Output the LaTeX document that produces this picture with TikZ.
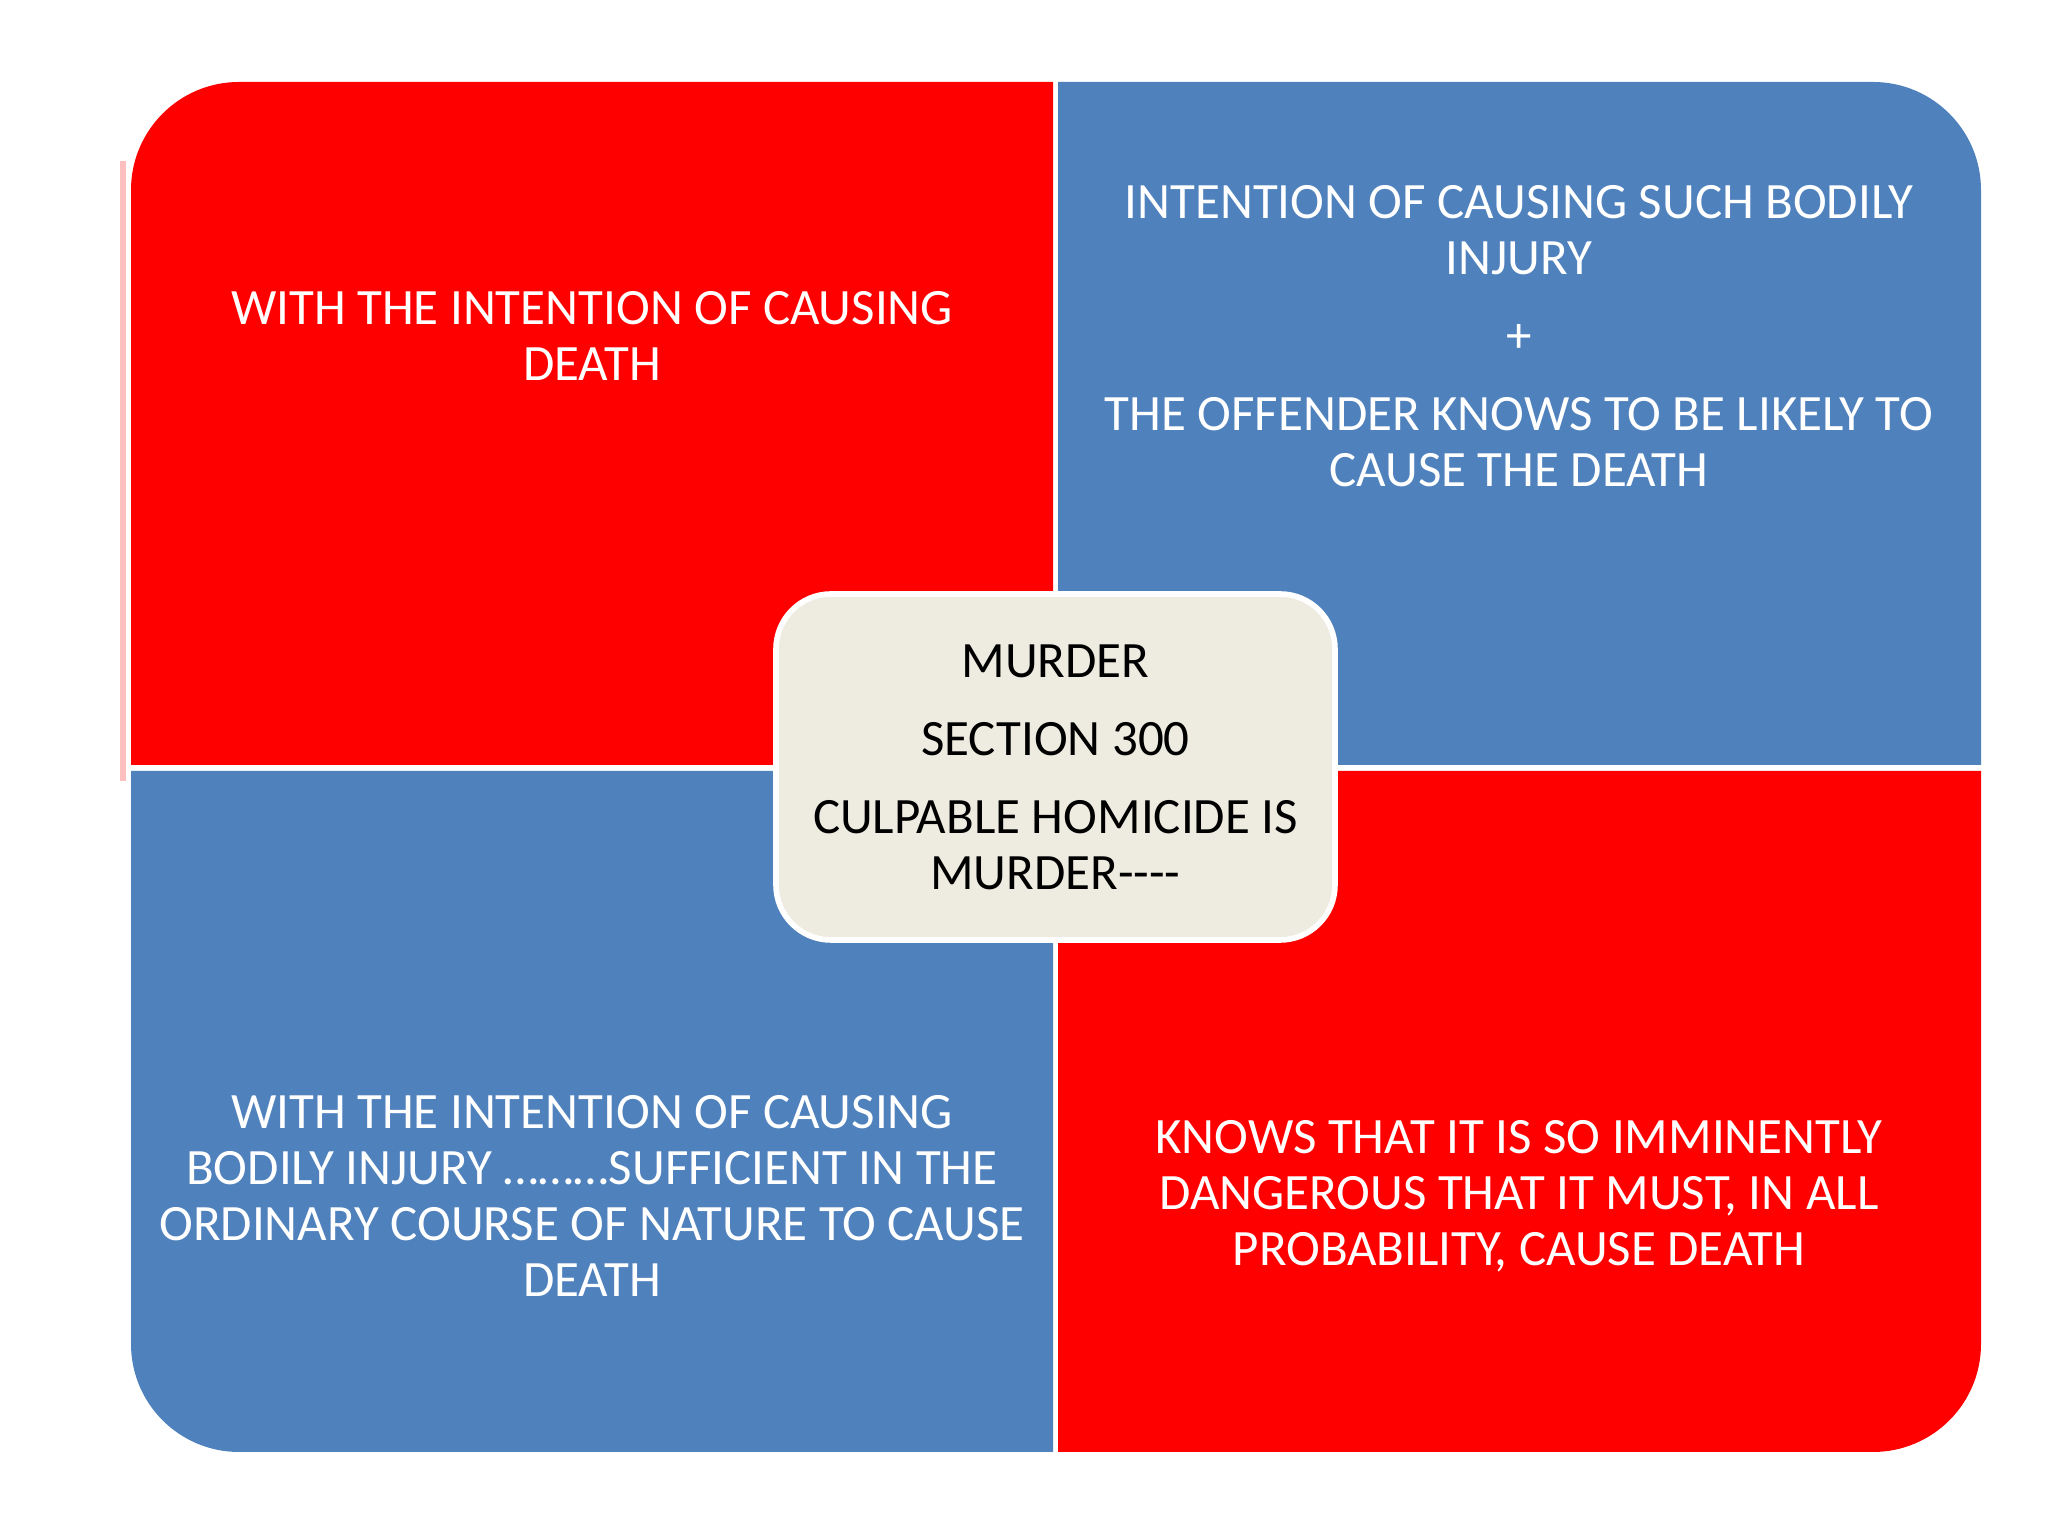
\documentclass[tikz,border=0pt]{standalone}
\usepackage{fontspec}
\setmainfont{Carlito}
\definecolor{quadred}{HTML}{FF0000}
\definecolor{quadblue}{HTML}{4F81BD}
\definecolor{boxtan}{HTML}{EEECE1}
\begin{document}
\begin{tikzpicture}[
    quadtext/.style={text=white, align=center, font=\fontsize{14.5}{15.9}\selectfont},
    centerbox/.style={draw=white, line width=1.6pt, fill=boxtan, rounded corners=0.55cm,
      minimum width=5.59cm, minimum height=3.46cm, align=center,
      font=\fontsize{14.5}{15.9}\selectfont}
  ]
  \useasboundingbox (0,0) rectangle (20.48,15.36);
  % faint edge on the left
  \draw[quadred!25, line width=1.8pt] (1.23,13.75) -- (1.23,7.55);
  % four quadrants
  \fill[quadred] (1.31,7.71) -- (1.31,13.46) arc[start angle=180, end angle=90, radius=1.08]
    -- (10.53,14.54) -- (10.53,7.71) -- cycle;
  \fill[quadblue] (10.58,7.71) -- (10.58,14.54) -- (18.73,14.54)
    arc[start angle=90, end angle=0, radius=1.08] -- (19.81,7.71) -- cycle;
  \fill[quadblue] (1.31,7.65) -- (1.31,1.92) arc[start angle=180, end angle=270, radius=1.08]
    -- (10.53,0.84) -- (10.53,7.65) -- cycle;
  \fill[quadred] (10.58,7.65) -- (10.58,0.84) -- (18.73,0.84)
    arc[start angle=270, end angle=360, radius=1.08] -- (19.81,7.65) -- cycle;
  % texts
  \node[quadtext] (intent) at (5.92,12.0) {WITH THE INTENTION OF CAUSING\\DEATH};
  \node[quadtext] (knowledge) at (15.19,12.0) {INTENTION OF CAUSING SUCH BODILY\\INJURY\\[6.3pt]+\\[6.3pt]THE OFFENDER KNOWS TO BE LIKELY TO\\CAUSE THE DEATH};
  \node[quadtext] (injury) at (5.92,3.40) {WITH THE INTENTION OF CAUSING\\BODILY INJURY ………SUFFICIENT IN THE\\ORDINARY COURSE OF NATURE TO CAUSE\\DEATH};
  \node[quadtext] (danger) at (15.19,3.40) {KNOWS THAT IT IS SO IMMINENTLY\\DANGEROUS THAT IT MUST, IN ALL\\PROBABILITY, CAUSE DEATH};
  \node[centerbox] (murder) at (10.555,7.69) {MURDER\\[6.3pt]SECTION 300\\[6.3pt]CULPABLE HOMICIDE IS\\MURDER-{}-{}-{}-};
\end{tikzpicture}
\end{document}
